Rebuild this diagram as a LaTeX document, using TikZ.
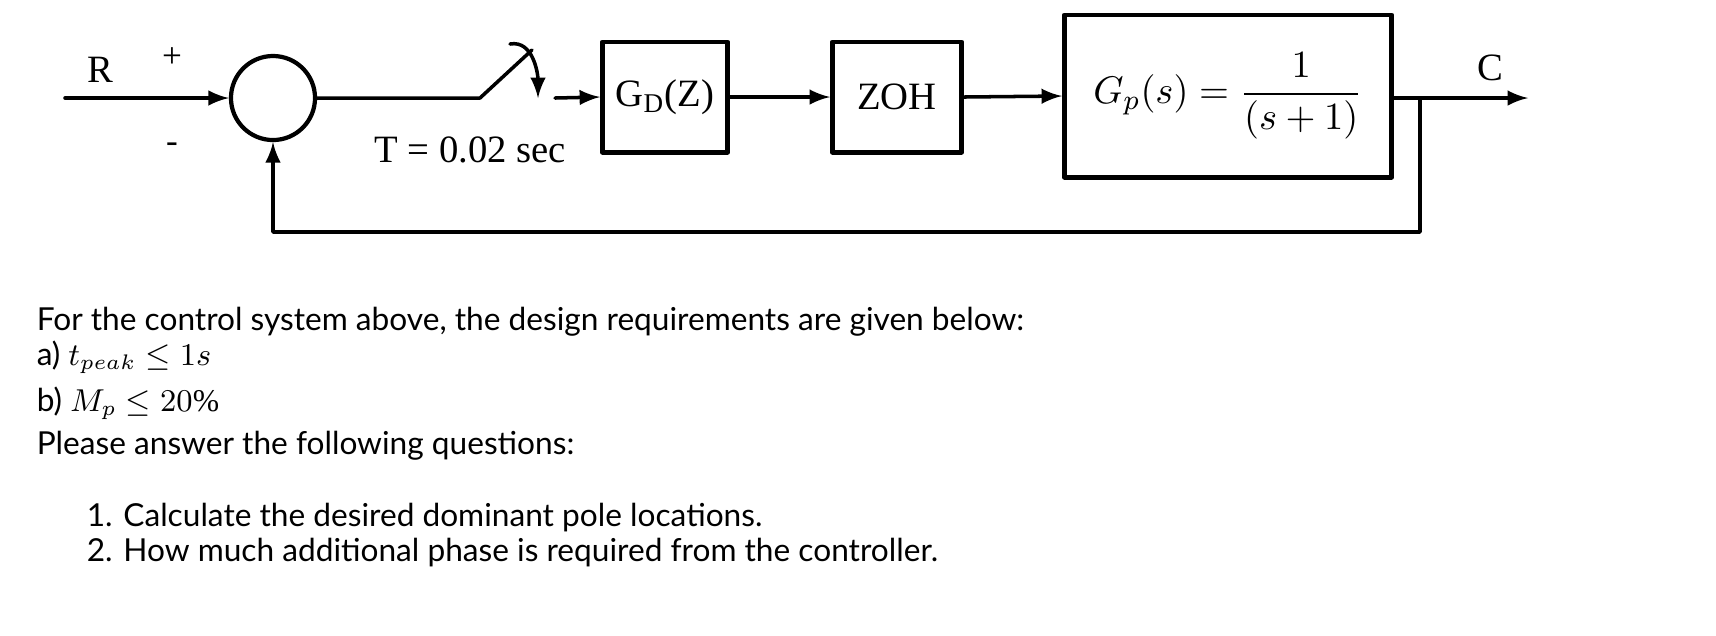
\documentclass[tikz,border=0pt]{standalone}
\usepackage{amsmath}
\usepackage{fontspec}
\setmainfont{Liberation Serif}
\newfontfamily\qfont{Lato}
\usetikzlibrary{positioning}
\tikzstyle{every path}=[line width=1pt, line cap=round, line join=round]
\tikzset{blk/.style={draw, line width=1.4pt, inner sep=0pt, font=\fontsize{11}{13}\selectfont},
  qtxt/.style={anchor=west, inner sep=0pt, font=\qfont\fontsize{9}{11}\selectfont}}
\begin{document}
\begin{tikzpicture}[x=0.01cm,y=-0.01cm]
\useasboundingbox (0,0) rectangle (1716,635);
        %sumador
        \node[draw, circle, minimum size=0.84cm, line width=1.2pt] (sum) at (273,98) {};
        \coordinate (in) at (65,98);
        \node[font=\fontsize{11}{13}\selectfont] (r) at (100,70) {R};
        \node (plus) at (172,58) {+};
        \node (minus) at (172,148) {-};
        \draw[-latex] (in) -- (sum.west);
        %muestreador
        \coordinate (sw1) at (480,98);
        \coordinate (sw2) at (532,50);
        \coordinate (sw3) at (555,98);
        \draw (sum.east) -- (sw1) -- (sw2);
        \draw[-latex] (510,44) to[out=10,in=90] (538,98);
        \node[font=\fontsize{11}{13}\selectfont] (T) at (470,150) {T = 0.02 sec};
        %bloques
        \node[blk, minimum width=1.25cm, minimum height=1.1cm] (gd) at (665,97) {G\textsubscript{D}(Z)};
        \node[blk, minimum width=3.27cm, minimum height=1.62cm] (gp) at (1228,96)
          {$G_p(s) = \dfrac{1}{(s+1)}$};
        \node[blk, minimum width=1.29cm, minimum height=1.1cm] (zoh) at (897,97) {ZOH};
        \draw[-latex] (sw3) -- (gd.west);
        \draw[-latex] (gd.east) -- (zoh.west);
        \draw[-latex] (zoh.east) -- (gp.west);
        %salida
        \coordinate (out) at (1528,98);
        \coordinate (fb) at (1420,98);
        \node[font=\fontsize{11}{13}\selectfont] (c) at (1490,68) {C};
        \draw[-latex] (gp.east |- out) -- (out);
        %realimentacion
        \draw[-latex] (fb) -- (1420,232) -- (273,232) -- (sum.south);
        %enunciado
        \node[qtxt] (l1) at (35,322) {For the control system above, the design requirements are given below:};
        \node[qtxt] (l2) at (35,357) {a) $t_{peak} \le 1s$};
        \node[qtxt] (l3) at (35,403) {b) $M_p \le 20\%$};
        \node[qtxt] (l4) at (35,446) {Please answer the following questions:};
        \node[qtxt] (l5) at (85,518) {1. Calculate the desired dominant pole locations.};
        \node[qtxt] (l6) at (85,553) {2. How much additional phase is required from the controller.};
\end{tikzpicture}
\end{document}
